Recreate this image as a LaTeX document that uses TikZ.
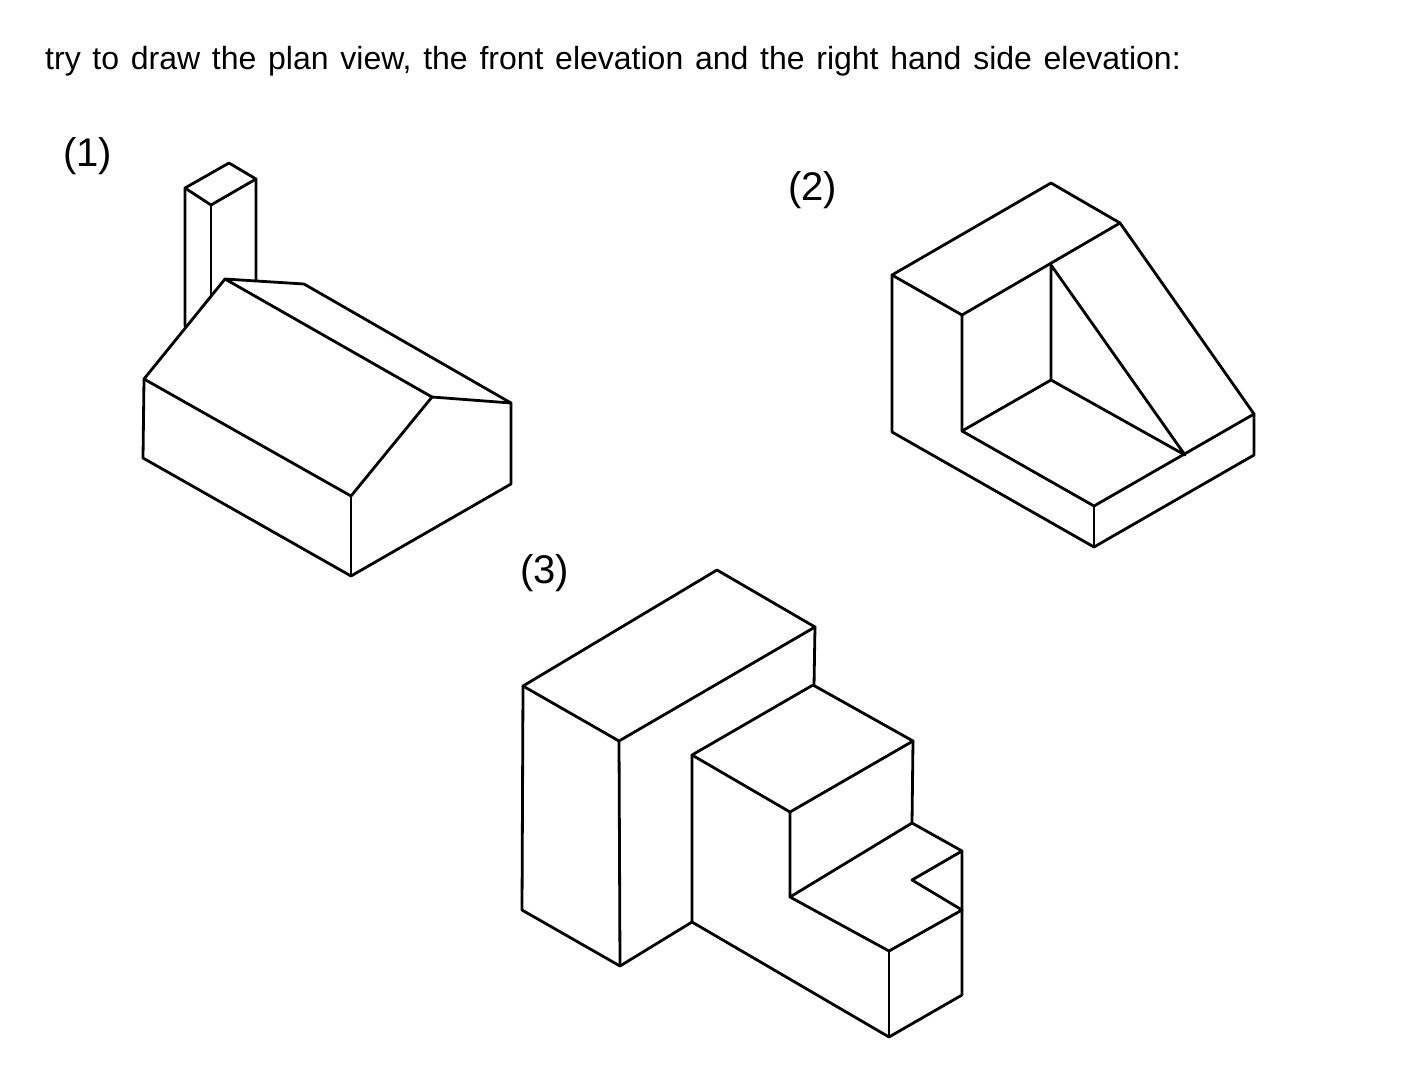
\documentclass[tikz,border=0pt]{standalone}
\usepackage{fontspec}
\setmainfont{Liberation Sans}
\newfontfamily\titlefont[WordSpace=1.32]{Liberation Sans}
\tikzset{ln/.style={draw=black,line width=2.8pt,line join=round,line cap=round},
lab/.style={font=\fontsize{40pt}{44pt}\selectfont,inner sep=0pt,text=black},
ttl/.style={font=\titlefont\fontsize{32pt}{36pt}\selectfont,inner sep=0pt,text=black}}
\begin{document}
\begin{tikzpicture}[x=1pt,y=-1pt]
\useasboundingbox[fill=white] (0,0) rectangle (1424,1080);
\node[ttl,anchor=base west] (title) at (45,69) {try to draw the plan view, the front elevation and the right hand side elevation:};
\node[lab,anchor=base west] (l1) at (63,166) {(1)};
\node[lab,anchor=base west] (l2) at (788,200) {(2)};
\node[lab,anchor=base west] (l3) at (520,583) {(3)};
% figure 1
\draw[ln] (185,326) -- (185,188) -- (229,163) -- (256,179) -- (256,281);
\draw[ln] (185,188) -- (211,205) -- (256,179);
\draw[ln] (211,205) -- (211,295);
\draw[ln] (144,379) -- (225,279) -- (304,284) -- (511,403) -- (511,484) -- (351,576) -- (143,458) -- (144,379) -- (351,496) -- (432,397) -- (225,279);
\draw[ln] (432,397) -- (511,403);
\draw[ln] (351,496) -- (351,576);
% figure 2
\draw[ln] (892,275) -- (1051,183) -- (1120,223) -- (1254,414) -- (1254,455) -- (1094,547) -- (892,432) -- cycle;
\draw[ln] (892,275) -- (962,315) -- (1120,223);
\draw[ln] (962,315) -- (962,431) -- (1094,506) -- (1254,414);
\draw[ln] (1094,506) -- (1094,547);
\draw[ln] (962,431) -- (1051,380) -- (1185,455) -- (1051,265) -- (1051,380);
% figure 3
\draw[ln] (523,686) -- (717,570) -- (815,627) -- (619,741) -- cycle;
\draw[ln] (523,686) -- (522,910) -- (620,966) -- (692,922);
\draw[ln] (619,741) -- (620,966);
\draw[ln] (815,627) -- (814,686);
\draw[ln] (692,755) -- (813,685) -- (913,741) -- (790,812) -- cycle;
\draw[ln] (692,755) -- (692,922) -- (889,1037) -- (962,995) -- (962,851) -- (912,823);
\draw[ln] (913,741) -- (912,823) -- (790,897);
\draw[ln] (790,812) -- (790,897) -- (889,951) -- (962,910) -- (912,880) -- (962,851);
\draw[ln] (889,951) -- (889,1037);
\end{tikzpicture}
\end{document}
